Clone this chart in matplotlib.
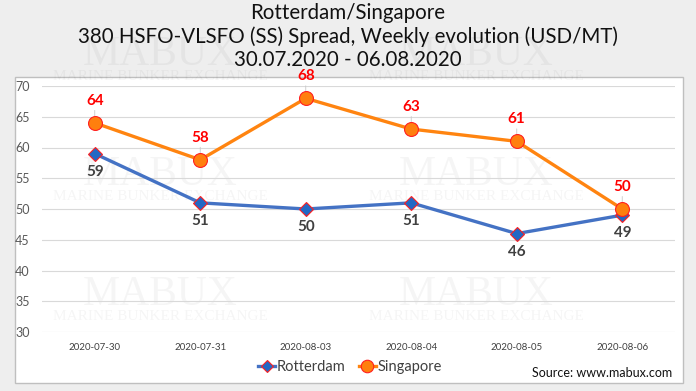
import matplotlib
matplotlib.use('Agg')
import matplotlib.pyplot as plt
from matplotlib.patches import Rectangle
from matplotlib.lines import Line2D

# ── Data ──────────────────────────────────────────────────────────────────────
dates = ['2020-07-30', '2020-07-31', '2020-08-03', '2020-08-04', '2020-08-05', '2020-08-06']
rotterdam = [59, 51, 50, 51, 46, 49]
singapore = [64, 58, 68, 63, 61, 50]
y_ticks = [30, 35, 40, 45, 50, 55, 60, 65, 70]

title_lines = ['Rotterdam/Singapore',
               '380 HSFO-VLSFO (SS) Spread, Weekly evolution (USD/MT)',
               '30.07.2020 - 06.08.2020']

W, H = 696, 391
plt.rcParams['font.family'] = ['Lato', 'DejaVu Sans']

fig = plt.figure(figsize=(W / 100, H / 100), dpi=100)
fig.patch.set_facecolor('#eeeeee')

def fx(px):
    return px / W

def fy(py):
    return 1 - py / H

# white chart box
fig.add_artist(Rectangle((fx(15), fy(383)), fx(683) - fx(15), fy(77) - fy(383),
                         transform=fig.transFigure, facecolor='white',
                         edgecolor='#bfbfbf', lw=1.0, zorder=0))

# faint watermark tiles
for cx in [160, 476]:
    for cy in [55, 175, 295]:
        fig.text(fx(cx), fy(cy), 'MABUX', family='Liberation Serif', fontsize=30,
                 color='#000000', alpha=0.04, ha='center', va='center', zorder=0.5)
        fig.text(fx(cx), fy(cy + 22), 'MARINE BUNKER EXCHANGE', family='Liberation Serif',
                 fontsize=11, color='#000000', alpha=0.04, ha='center', va='center', zorder=0.5)

# title
for text, py in zip(title_lines, [13, 37, 60]):
    fig.text(0.5, fy(py), text, ha='center', va='center', fontsize=14.8, color='#111111')

# ── Plot area ─────────────────────────────────────────────────────────────────
ax = fig.add_axes([fx(42), fy(332), fx(675) - fx(42), fy(86) - fy(332)])
ax.set_facecolor('none')
ax.set_zorder(1)
x = list(range(len(dates)))

ax.plot(x, rotterdam, color='#4472c4', lw=2.4, marker='D', markersize=7.5,
        markerfacecolor='#2368c4', markeredgecolor='#ff2020', markeredgewidth=0.8,
        label='Rotterdam', zorder=3)
ax.plot(x, singapore, color='#ff8410', lw=2.4, marker='o', markersize=10,
        markerfacecolor='#ff7f0e', markeredgecolor='#ff2020', markeredgewidth=0.8,
        label='Singapore', zorder=4)

for xi, v in zip(x, singapore):
    ax.annotate(str(v), (xi, v), xytext=(0, 11), textcoords='offset points',
                ha='center', va='bottom', fontsize=11, fontweight='bold', color='#ff0000',
                arrowprops=dict(arrowstyle='-', color='#c8c8c8', lw=0.6,
                                shrinkA=0, shrinkB=5))
for xi, v in zip(x, rotterdam):
    ax.annotate(str(v), (xi, v), xytext=(0, -8), textcoords='offset points',
                ha='center', va='top', fontsize=11, fontweight='bold', color='#404040')

ax.set_xlim(-0.5, len(dates) - 0.5)
ax.set_ylim(30, 70)
ax.set_yticks(y_ticks)
ax.set_xticks(x)
ax.set_xticklabels(dates)
ax.tick_params(axis='y', length=0, pad=9, labelsize=9, labelcolor='#595959')
ax.tick_params(axis='x', length=0, pad=8, labelsize=7, labelcolor='#404040')
ax.grid(axis='y', color='#d9d9d9', lw=0.8)
ax.set_axisbelow(True)
for s in ax.spines.values():
    s.set_visible(False)

handles = [
    Line2D([], [], color='#4472c4', lw=2.4, marker='D', markersize=6.5,
           markerfacecolor='#2368c4', markeredgecolor='#ff2020', markeredgewidth=0.8),
    Line2D([], [], color='#ff8410', lw=2.4, marker='o', markersize=9,
           markerfacecolor='#ff7f0e', markeredgecolor='#ff2020', markeredgewidth=0.8),
]
fig.legend(handles, ['Rotterdam', 'Singapore'], loc='center',
           bbox_to_anchor=(fx(350), fy(367)), ncol=2, frameon=False, fontsize=10.5,
           handlelength=1.2, handletextpad=0.1, columnspacing=0.9,
           labelcolor='#404040')

fig.text(fx(672), fy(373), 'Source: www.mabux.com', ha='right', va='center',
         fontsize=9, color='#111111')

fig.savefig('out.png', dpi=100, facecolor=fig.get_facecolor())
